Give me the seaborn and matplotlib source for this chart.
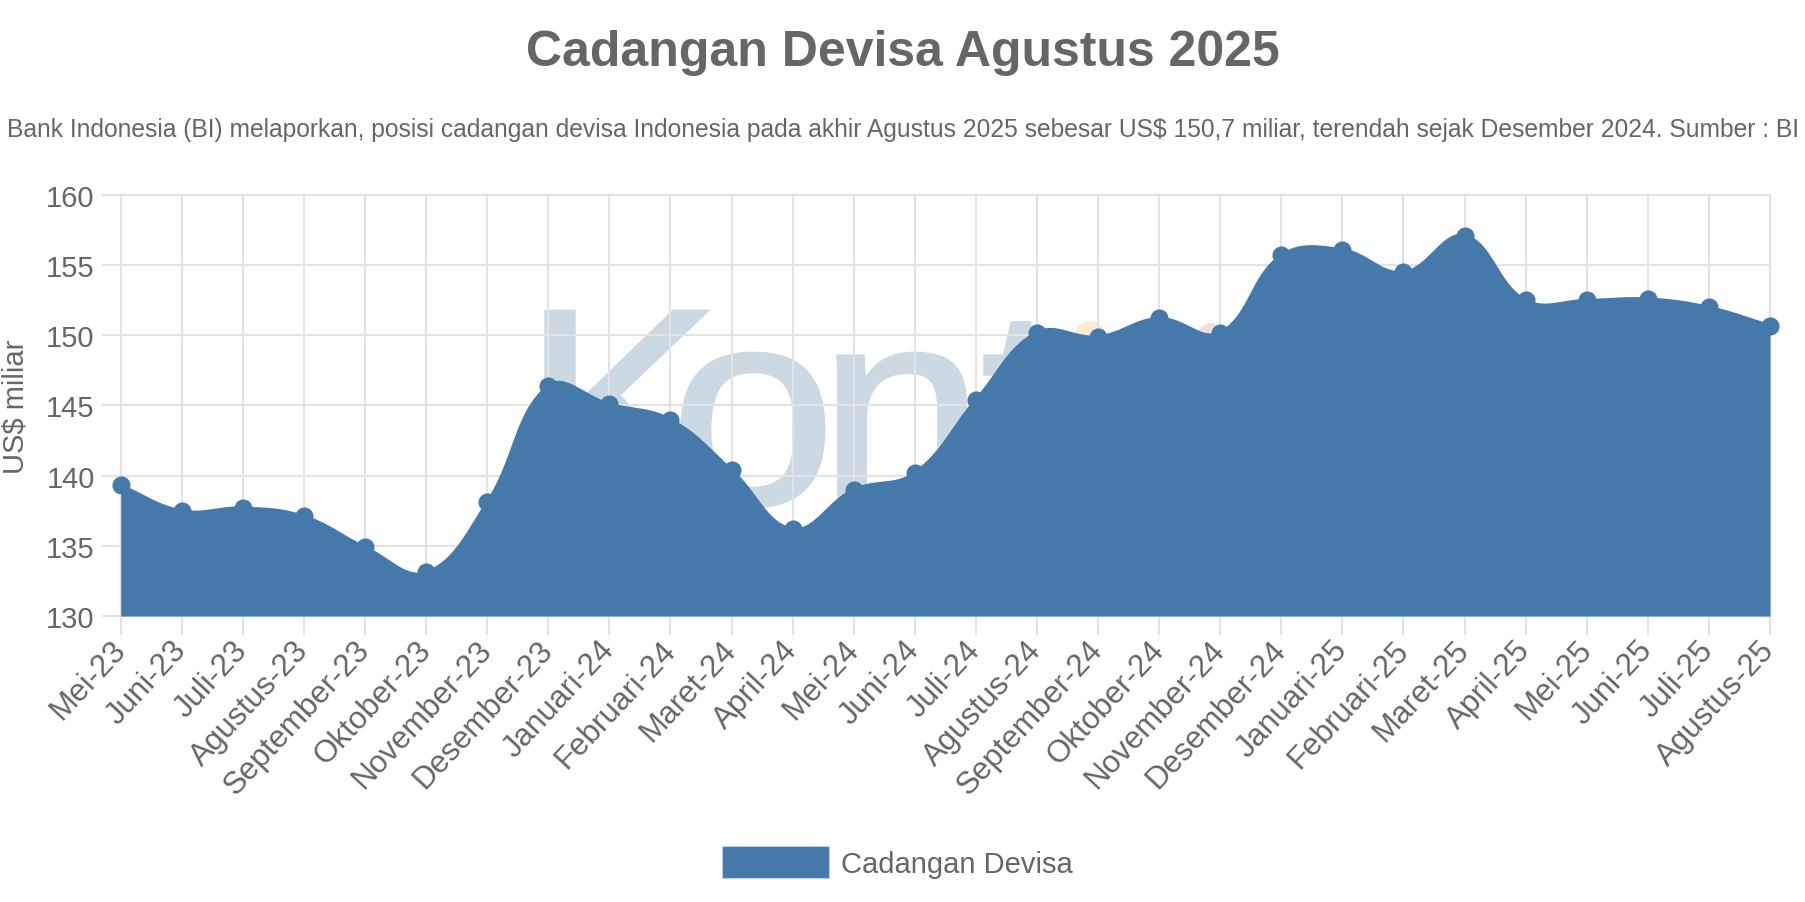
import numpy as np
import seaborn as sns
import matplotlib
matplotlib.use('Agg')
import matplotlib.pyplot as plt
from matplotlib.patches import Patch, PathPatch, Ellipse
from matplotlib.textpath import TextPath
from matplotlib.font_manager import FontProperties
from matplotlib.transforms import Affine2D, IdentityTransform

# data
bulan = ["Mei-23", "Juni-23", "Juli-23", "Agustus-23", "September-23", "Oktober-23",
         "November-23", "Desember-23", "Januari-24", "Februari-24", "Maret-24", "April-24",
         "Mei-24", "Juni-24", "Juli-24", "Agustus-24", "September-24", "Oktober-24",
         "November-24", "Desember-24", "Januari-25", "Februari-25", "Maret-25", "April-25",
         "Mei-25", "Juni-25", "Juli-25", "Agustus-25"]
cadangan = [139.3, 137.5, 137.7, 137.1, 134.9, 133.1,
            138.1, 146.4, 145.1, 144.0, 140.4, 136.2,
            139.0, 140.2, 145.4, 150.2, 149.9, 151.2,
            150.2, 155.7, 156.1, 154.5, 157.1, 152.5,
            152.5, 152.6, 152.0, 150.7]
y_ticks = [130, 135, 140, 145, 150, 155, 160]

judul = "Cadangan Devisa Agustus 2025"
sub_judul = ("Bank Indonesia (BI) melaporkan, posisi cadangan devisa Indonesia pada akhir Agustus 2025 "
             "sebesar US$ 150,7 miliar, terendah sejak Desember 2024. Sumber : BI")
label_y = "US$ miliar"
nama_seri = "Cadangan Devisa"

warna = "#4579aa"
teks = "#666666"
grid_c = "#e3e3e3"

W, H = 1806, 903
left_px, right_px, top_px, bot_px = 120.7, 1770, 196, 617


def spline(xp, yp, t=0.4, n_seg=40):
    # bezier smoothing like chart.js (tension 0.4), done in pixel space
    n = len(xp)
    cpp, cpn = [], []
    for i in range(n):
        p0 = np.array([xp[max(i - 1, 0)], yp[max(i - 1, 0)]])
        p1 = np.array([xp[i], yp[i]])
        p2 = np.array([xp[min(i + 1, n - 1)], yp[min(i + 1, n - 1)]])
        d01 = np.hypot(*(p1 - p0))
        d12 = np.hypot(*(p2 - p1))
        s01 = d01 / (d01 + d12) if d01 + d12 > 0 else 0
        s12 = d12 / (d01 + d12) if d01 + d12 > 0 else 0
        cpp.append(p1 - t * s01 * (p2 - p0))
        cpn.append(p1 + t * s12 * (p2 - p0))
    xs, ys = [], []
    tt = np.linspace(0, 1, n_seg)
    for i in range(n - 1):
        P0 = np.array([xp[i], yp[i]])
        P1, P2 = cpn[i], cpp[i + 1]
        P3 = np.array([xp[i + 1], yp[i + 1]])
        for u in tt:
            b = (1 - u) ** 3 * P0 + 3 * (1 - u) ** 2 * u * P1 + 3 * (1 - u) * u ** 2 * P2 + u ** 3 * P3
            xs.append(b[0])
            ys.append(b[1])
    return np.array(xs), np.array(ys)


sns.set_style("whitegrid")
plt.rcParams['font.family'] = ['Liberation Sans', 'DejaVu Sans']

fig = plt.figure(figsize=(W / 100, H / 100), dpi=100)
ax = fig.add_axes([left_px / W, 1 - bot_px / H, (right_px - left_px) / W, (bot_px - top_px) / H])

# pixel scale for the spline
sx = (right_px - left_px) / (len(bulan) - 1)
sy = (bot_px - top_px) / (y_ticks[-1] - y_ticks[0])
idx = np.arange(len(bulan))
cx, cy = spline(idx * sx, np.array(cadangan) * sy)
cx = cx / sx
cy = np.clip(cy / sy, y_ticks[0], y_ticks[-1])

# watermark "Kontan" behind the area, letter by letter (tight like the logo)
wm_font = FontProperties(family='Liberation Sans')
wm_col = "#cdd9e2"
for huruf, x_kiri in [("K", 546), ("o", 682), ("n", 838), ("t", 985), ("a", 1045), ("n", 1170)]:
    p = TextPath((0, 0), huruf, size=1, prop=wm_font)
    x0 = p.get_extents().x0
    tr = Affine2D().scale(300, 280).translate(x_kiri - x0 * 300, H - 505) + IdentityTransform()
    ax.add_patch(PathPatch(p, transform=tr, facecolor=wm_col, edgecolor=wm_col, lw=2.5,
                           zorder=0.1, clip_on=False))
# bits of the coloured logo peeking out
ax.add_patch(Ellipse((1090, H - 342), 34, 40, transform=IdentityTransform(), facecolor="#fbedcf",
                     edgecolor='none', zorder=0.1))
ax.add_patch(Ellipse((1210, H - 344), 30, 40, transform=IdentityTransform(), facecolor="#f9dcdf",
                     edgecolor='none', zorder=0.1))

ax.fill_between(cx, y_ticks[0], cy, color=warna, lw=0, zorder=2)
sns.lineplot(x=cx, y=cy, sort=False, color=warna, lw=2, ax=ax, zorder=3)
sns.scatterplot(x=idx, y=cadangan, color=warna, s=170, linewidth=0, ax=ax, zorder=4, clip_on=False)

ax.set_xlim(0, len(bulan) - 1)
ax.set_ylim(y_ticks[0], y_ticks[-1])
ax.set_xticks(idx)
ax.set_xticklabels(bulan, rotation=47, ha='right', va='center', rotation_mode='anchor')
ax.set_yticks(y_ticks)
ax.set_yticklabels([str(v) for v in y_ticks])

ax.grid(True, color=grid_c, lw=1.5)
for ln in ax.get_xgridlines() + ax.get_ygridlines():
    ln.set_clip_on(False)
for s in ax.spines.values():
    s.set_visible(False)
ax.tick_params(axis='x', length=13.7, width=1.5, color=grid_c, pad=7, labelsize=22.5, labelcolor=teks)
ax.tick_params(axis='y', length=13.7, width=1.5, color=grid_c, pad=5, labelsize=21, labelcolor=teks)
ax.tick_params(bottom=True, left=True)

ax.set_ylabel(label_y, fontsize=21, color=teks)
ax.yaxis.set_label_coords((29 - left_px) / (right_px - left_px), 0.5)

fig.text(0.5, 1 - 53 / H, judul, ha='center', va='center', fontsize=36, fontweight='bold', color=teks)
sub = fig.text(0.5, 1 - 137 / H, sub_judul, ha='center', va='baseline', fontsize=18, color=teks)

# fit subtitle to the figure width
fig.canvas.draw()
w = sub.get_window_extent().width
sub.set_fontsize(18 * 1800 / w)

fig.legend(handles=[Patch(facecolor=warna, edgecolor='#b9d0e6', lw=0.8, label=nama_seri)],
           loc='center', bbox_to_anchor=(0.497, 40 / H), frameon=False, fontsize=21,
           handlelength=3.66, handleheight=1.28, handletextpad=0.42, borderpad=0,
           labelcolor=teks)

fig.savefig("out.png", dpi=100)
